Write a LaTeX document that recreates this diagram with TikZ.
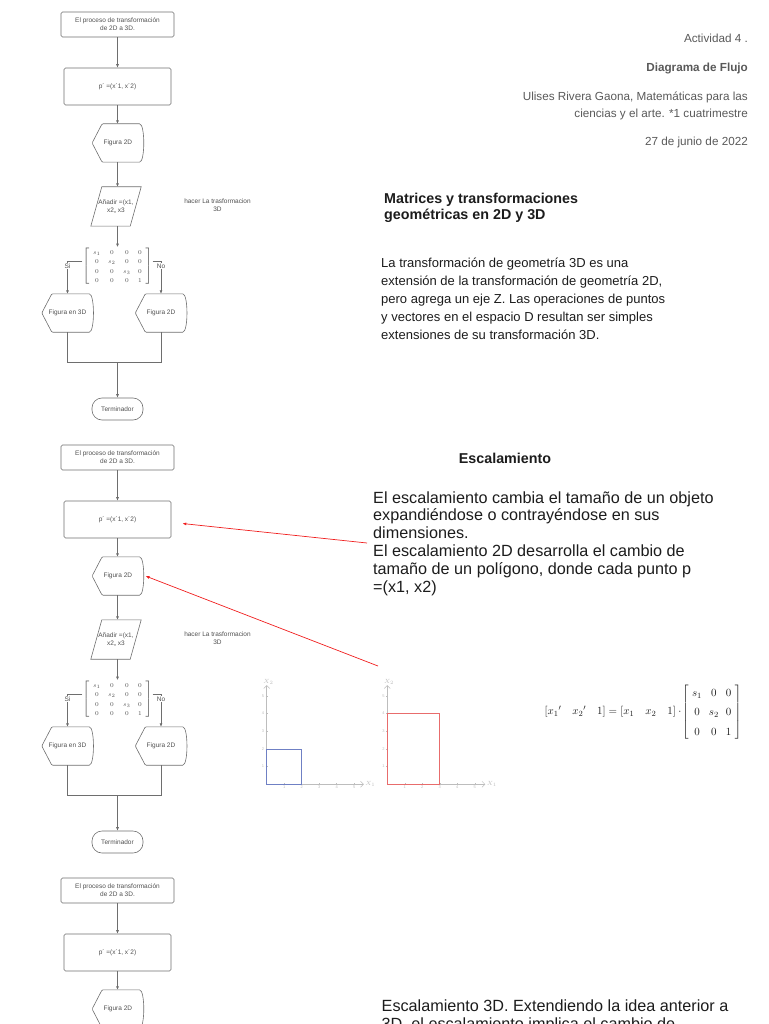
\documentclass[tikz,border=0pt]{standalone}
\usepackage{fontspec}
\setmainfont{Liberation Sans}
\usetikzlibrary{arrows.meta,calc}
\definecolor{linegray}{HTML}{6E6E6E}
\definecolor{txtgray}{HTML}{505050}
\definecolor{headgray}{HTML}{595959}
\definecolor{axisgray}{HTML}{BDBDBD}
\definecolor{rectblue}{HTML}{6F80C4}
\definecolor{rectred}{HTML}{E86C6C}
\definecolor{arrowred}{HTML}{F01E1E}
\definecolor{bodyblack}{HTML}{1C1C1C}
\tikzset{
  flow/.style={draw=linegray, line width=0.6pt},
  flowarrow/.style={flow, -{Latex[length=3.5pt,width=3pt]}},
  redarrow/.style={draw=arrowred, line width=0.7pt, -{Latex[length=4pt,width=3pt]}},
  tiny/.style={font=\fontsize{6.5}{7.8}\selectfont, text=txtgray, align=center},
  procbox/.style={tiny, flow, rounded corners=1.5pt, inner sep=0pt},
  dispbox/.style={tiny, minimum width=51pt, minimum height=38pt, inner sep=0pt,
    append after command={\pgfextra{\draw[flow, rounded corners=1pt]
      ([xshift=10pt]\tikzlastnode.north west) -- ([xshift=-5pt]\tikzlastnode.north east)
      .. controls ([xshift=1.7pt]\tikzlastnode.north east) and ([xshift=1.7pt]\tikzlastnode.south east) .. ([xshift=-5pt]\tikzlastnode.south east)
      -- ([xshift=10pt]\tikzlastnode.south west) -- (\tikzlastnode.west) -- cycle;}}},
  parabox/.style={tiny, minimum width=50pt, minimum height=39pt, inner sep=0pt,
    append after command={\pgfextra{\draw[flow]
      ([xshift=11pt]\tikzlastnode.north west) -- (\tikzlastnode.north east)
      -- ([xshift=-11pt]\tikzlastnode.south east) -- (\tikzlastnode.south west) -- cycle;}}},
  termbox/.style={tiny, flow, rounded corners=10pt, minimum width=51pt, minimum height=22pt, inner sep=0pt},
  lbl/.style={tiny, fill=white, inner sep=0.6pt},
  head/.style={font=\fontsize{11.7}{14}\selectfont, text=headgray, anchor=base east, inner sep=0pt},
  title/.style={font=\fontsize{14.3}{17}\selectfont\bfseries, text=bodyblack, anchor=base west, align=left, inner sep=0pt},
  bodytext/.style={font=\fontsize{13}{18}\selectfont, text=bodyblack, anchor=base west, align=left, inner sep=0pt},
  bigtext/.style={font=\fontsize{16.2}{17.8}\selectfont, text=bodyblack, anchor=base west, align=left, inner sep=0pt},
  axis/.style={draw=axisgray, line width=0.5pt},
  axislbl/.style={font=\fontsize{4}{5}\selectfont, text=axisgray, inner sep=0.5pt}
}
\begin{document}
\begin{tikzpicture}[x=1pt, y=-1pt]
		%%%%% START %%%%%
		\useasboundingbox (0,0) rectangle (768,1024);
		\clip (0,0) rectangle (768,1024);
		
		% the same flow chart, three times down the page
		\foreach \g/\dy in {1/0, 2/433, 3/866}{
		\begin{scope}[yshift=-\dy pt]
		\node[procbox, minimum width=113pt, minimum height=25pt] (start\g) at (117.5,24.5) {El proceso de transformación\\de 2D a 3D.};
		\node[procbox, minimum width=107pt, minimum height=37pt] (pbox\g) at (117.5,86.5) {p´ =(x´1, x´2)};
		\node[dispbox] (fig\g) at (117.8,143) {Figura 2D};
		\node[parabox] (para\g) at (116,206.5) {Añadir =(x1,\\x2,, x3};
		\node[tiny] (note\g) at (217.5,205.5) {hacer La trasformacion\\3D};
		\node[tiny, inner sep=0pt, font=\fontsize{6}{8}\selectfont] (mat\g) at (117.5,266.5)
		  {$\renewcommand{\arraystretch}{1.2}\setlength{\arraycolsep}{3.8pt}\left[\begin{array}{cccc} s_1 & 0 & 0 & 0\\ 0 & s_2 & 0 & 0\\ 0 & 0 & s_3 & 0\\ 0 & 0 & 0 & 1\end{array}\right]$};
		\node[dispbox] (figsi\g) at (67.5,313) {Figura en 3D};
		\node[dispbox] (figno\g) at (161,313) {Figura 2D};
		\coordinate (join\g) at (117.5,362.7);
		\node[termbox] (term\g) at (117.5,409) {Terminador};
		
		\draw[flowarrow] (start\g) -- (pbox\g);
		\draw[flowarrow] (pbox\g) -- (pbox\g |- fig\g.north);
		\draw[flowarrow] (pbox\g |- fig\g.south) -- (pbox\g |- para\g.north);
		\draw[flowarrow] (pbox\g |- para\g.south) -- (mat\g);
		\draw[flowarrow] ([yshift=5pt]mat\g.west) -| node[lbl, pos=0.57] {Si} (figsi\g.north);
		\draw[flowarrow] ([yshift=5pt]mat\g.east) -| node[lbl, pos=0.57] {No} (figno\g.north);
		\draw[flow] (figsi\g.south) |- (join\g) -| (figno\g.south);
		\draw[flowarrow] (join\g) -- (term\g);
		\end{scope}
		}
		
		% header
		\node[head] (act) at (748,43) {Actividad 4 .};
		\node[head, font=\fontsize{11.7}{14}\selectfont\bfseries] (diag) at (748,72) {Diagrama de Flujo};
		\node[head] (autor) at (748,101) {Ulises Rivera Gaona, Matemáticas para las};
		\node[head] (curso) at (748,118) {ciencias y el arte. *1 cuatrimestre};
		\node[head] (fecha) at (748,146) {27 de junio de 2022};
		
		% text blocks (base = last line)
		\node[title] (tmat) at (384,220) {Matrices y transformaciones\\geométricas en 2D y 3D};
		\node[bodytext] (pmat) at (381,339) {La transformación de geometría 3D es una\\extensión de la transformación de geometría 2D,\\pero agrega un eje Z. Las operaciones de puntos\\y vectores en el espacio D resultan ser simples\\extensiones de su transformación 3D.};
		\node[title, anchor=base] (tesc) at (505,463) {Escalamiento};
		\node[bigtext] (pesc) at (373,592) {El escalamiento cambia el tamaño de un objeto\\expandiéndose o contrayéndose en sus\\dimensiones.\\El escalamiento 2D desarrolla el cambio de\\tamaño de un polígono, donde cada punto p\\=(x1, x2)};
		\node[bigtext] (pesc3) at (381.5,1029.5) {Escalamiento 3D. Extendiendo la idea anterior a\\3D, el escalamiento implica el cambio de};
		
		% red pointers
		\coordinate (ra) at (367,543);
		\coordinate (rb) at (378,666);
		\draw[redarrow] (ra) -- ([xshift=11pt,yshift=-4pt]pbox2.east);
		\draw[redarrow] (rb) -- ([xshift=2pt]fig2.east);
		
		% graph before scaling
		\begin{scope}[shift={(266.7,784.3)}, x=17.5pt, y=17.7pt]
		\draw[axis, -{Straight Barb[length=3pt]}] (0,0) -- (5.55,0);
		\draw[axis, -{Straight Barb[length=3pt]}] (0,0) -- (0,5.6);
		\foreach \k in {1,...,5}{
		\draw[axis] (\k,-0.06) -- (\k,0.06) node[axislbl, below=2pt] {\k};
		\draw[axis] (-0.06,\k) -- (0.06,\k);
		\node[axislbl, left=2pt] at (0,\k) {\k};
		}
		\node[axislbl, font=\fontsize{6}{7}\selectfont, right] (xa) at (5.6,0) {$X_1$};
		\node[axislbl, font=\fontsize{6}{7}\selectfont, above] (ya) at (0.1,5.6) {$X_2$};
		\draw[draw=rectblue, line width=0.8pt] (0,0) rectangle (2,2);
		\end{scope}
		
		% graph after scaling
		\begin{scope}[shift={(387.3,784.3)}, x=17.5pt, y=17.7pt]
		\draw[axis, -{Straight Barb[length=3pt]}] (0,0) -- (5.6,0);
		\draw[axis, -{Straight Barb[length=3pt]}] (0,0) -- (0,5.6);
		\foreach \k in {1,...,5}{
		\draw[axis] (\k,-0.06) -- (\k,0.06) node[axislbl, below=2pt] {\k};
		\draw[axis] (-0.06,\k) -- (0.06,\k);
		\node[axislbl, left=2pt] at (0,\k) {\k};
		}
		\node[axislbl, font=\fontsize{6}{7}\selectfont, right] (xb) at (5.65,0) {$X_1$};
		\node[axislbl, font=\fontsize{6}{7}\selectfont, above] (yb) at (0.1,5.6) {$X_2$};
		\draw[draw=rectred, line width=0.8pt] (0,0) rectangle (3,4);
		\end{scope}
		
		% scaling matrix
		\node[font=\fontsize{11}{13}\selectfont, text=bodyblack, inner sep=0pt] (eq) at (643,712)
		  {$\renewcommand{\arraystretch}{1.5}\setlength{\arraycolsep}{3.5pt}
		  \left[x_1{}'\quad x_2{}'\quad 1\right]=\left[x_1\quad x_2\quad 1\right]\cdot\!\left[\begin{array}{ccc} s_1 & 0 & 0\\ 0 & s_2 & 0\\ 0 & 0 & 1\end{array}\right]$};
		%%%%% END %%%%%
\end{tikzpicture}
\end{document}
